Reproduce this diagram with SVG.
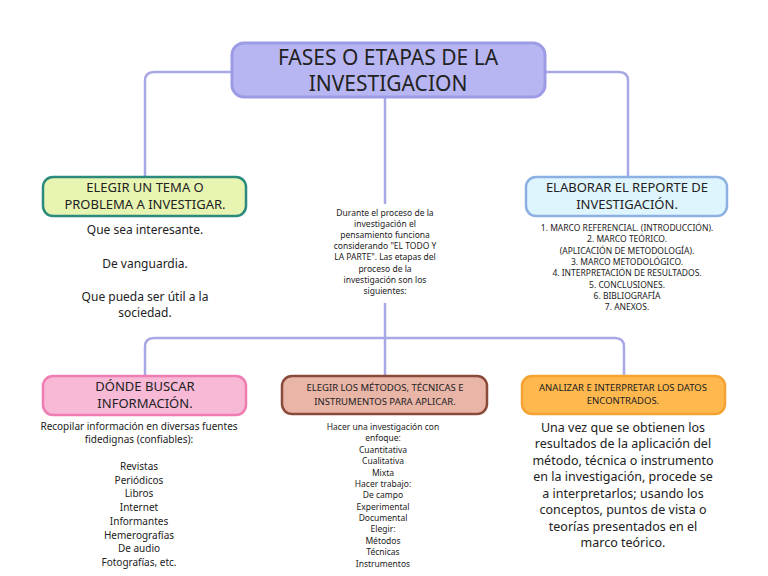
<svg xmlns="http://www.w3.org/2000/svg" width="768" height="576" viewBox="0 0 768 576">
<style>
text{font-family:"Noto Sans","Liberation Sans",sans-serif;text-anchor:middle;fill:#222}
.c{fill:none;stroke:#a9a8e6;stroke-width:2.5}
.h{font-size:13px}
.s{font-size:8.5px}
.m{font-size:12px}
.l{font-size:12.5px}
</style>
<rect width="768" height="576" fill="#fff"/>
<g id="connectors">
<path class="c" d="M232 72H154Q145 72 145 81V178"/>
<path class="c" d="M545 72H619Q628 72 628 81V178"/>
<path class="c" d="M385 97V204M385 303V338M145 376V347Q145 338 154 338H615Q624 338 624 347V376M385 338V376"/>
</g>
<g id="title">
<rect x="232" y="43" width="313" height="54" rx="12" fill="#b8b6f2" stroke="#9d9be6" stroke-width="3"/>
<text x="388" y="65" font-size="21">FASES O ETAPAS DE LA</text>
<text x="388" y="91" font-size="21">INVESTIGACION</text>
</g>
<g id="tema">
<rect x="43" y="177" width="203" height="39" rx="10" fill="#e8f5b2" stroke="#2b8a7c" stroke-width="2.5"/>
<text class="h" x="145" y="192">ELEGIR UN TEMA O</text>
<text class="h" x="145" y="209">PROBLEMA A INVESTIGAR.</text>
<text class="m" x="145" y="234">Que sea interesante.</text>
<text class="m" x="145" y="268">De vanguardia.</text>
<text class="m" x="145" y="301">Que pueda ser útil a la</text>
<text class="m" x="145" y="317">sociedad.</text>
</g>
<g id="centro">
<text class="s" x="385" y="216">Durante el proceso de la</text>
<text class="s" x="385" y="227">investigación el</text>
<text class="s" x="385" y="238">pensamiento funciona</text>
<text class="s" x="385" y="249">considerando "EL TODO Y</text>
<text class="s" x="385" y="260">LA PARTE". Las etapas del</text>
<text class="s" x="385" y="272">proceso de la</text>
<text class="s" x="385" y="283">investigación son los</text>
<text class="s" x="385" y="294">siguientes:</text>
</g>
<g id="reporte">
<rect x="526" y="177" width="201" height="39" rx="10" fill="#dff5fd" stroke="#8cb0e2" stroke-width="2.5"/>
<text class="h" x="627" y="192">ELABORAR EL REPORTE DE</text>
<text class="h" x="627" y="209">INVESTIGACIÓN.</text>
<text class="s" x="627" y="231">1. MARCO REFERENCIAL. (INTRODUCCIÓN).</text>
<text class="s" x="627" y="242">2. MARCO TEÓRICO.</text>
<text class="s" x="627" y="254">(APLICACIÓN DE METODOLOGÍA).</text>
<text class="s" x="627" y="265">3. MARCO METODOLÓGICO.</text>
<text class="s" x="627" y="276">4. INTERPRETACIÓN DE RESULTADOS.</text>
<text class="s" x="627" y="288">5. CONCLUSIONES.</text>
<text class="s" x="627" y="299">6. BIBLIOGRAFÍA</text>
<text class="s" x="627" y="310">7. ANEXOS.</text>
</g>
<g id="donde">
<rect x="43" y="376" width="203" height="39" rx="10" fill="#f7b9d6" stroke="#f07db2" stroke-width="2.5"/>
<text class="h" x="145" y="391">DÓNDE BUSCAR</text>
<text class="h" x="145" y="408">INFORMACIÓN.</text>
<text font-size="10" x="139" y="430">Recopilar información en diversas fuentes</text>
<text font-size="10" x="139" y="443">fidedignas (confiables):</text>
<text font-size="10" x="139" y="470">Revistas</text>
<text font-size="10" x="139" y="484">Periódicos</text>
<text font-size="10" x="139" y="497">Libros</text>
<text font-size="10" x="139" y="511">Internet</text>
<text font-size="10" x="139" y="525">Informantes</text>
<text font-size="10" x="139" y="539">Hemerografías</text>
<text font-size="10" x="139" y="552">De audio</text>
<text font-size="10" x="139" y="566">Fotografías, etc.</text>
</g>
<g id="metodos">
<rect x="282" y="376" width="205" height="38" rx="10" fill="#e9b5a7" stroke="#8b4b3b" stroke-width="2.5"/>
<text font-size="9.5" x="385" y="391">ELEGIR LOS MÉTODOS, TÉCNICAS E</text>
<text font-size="9.5" x="385" y="405">INSTRUMENTOS PARA APLICAR.</text>
<g font-size="8.5">
<text x="383" y="430">Hacer una investigación con</text>
<text x="383" y="441">enfoque:</text>
<text x="383" y="453">Cuantitativa</text>
<text x="383" y="464">Cualitativa</text>
<text x="383" y="476">Mixta</text>
<text x="383" y="487">Hacer trabajo:</text>
<text x="383" y="498">De campo</text>
<text x="383" y="510">Experimental</text>
<text x="383" y="521">Documental</text>
<text x="383" y="532">Elegir:</text>
<text x="383" y="544">Métodos</text>
<text x="383" y="555">Técnicas</text>
<text x="383" y="567">Instrumentos</text>
</g>
</g>
<g id="analizar">
<rect x="522" y="376" width="203" height="38" rx="10" fill="#ffb84e" stroke="#f4a232" stroke-width="2.5"/>
<text font-size="9.5" x="623" y="391">ANALIZAR E INTERPRETAR LOS DATOS</text>
<text font-size="9.5" x="623" y="404">ENCONTRADOS.</text>
<g class="l">
<text x="623" y="432">Una vez que se obtienen los</text>
<text x="623" y="448">resultados de la aplicación del</text>
<text x="623" y="465">método, técnica o instrumento</text>
<text x="623" y="481">en la investigación, procede se</text>
<text x="623" y="498">a interpretarlos; usando los</text>
<text x="623" y="514">conceptos, puntos de vista o</text>
<text x="623" y="531">teorías presentados en el</text>
<text x="623" y="547">marco teórico.</text>
</g>
</g>
</svg>
